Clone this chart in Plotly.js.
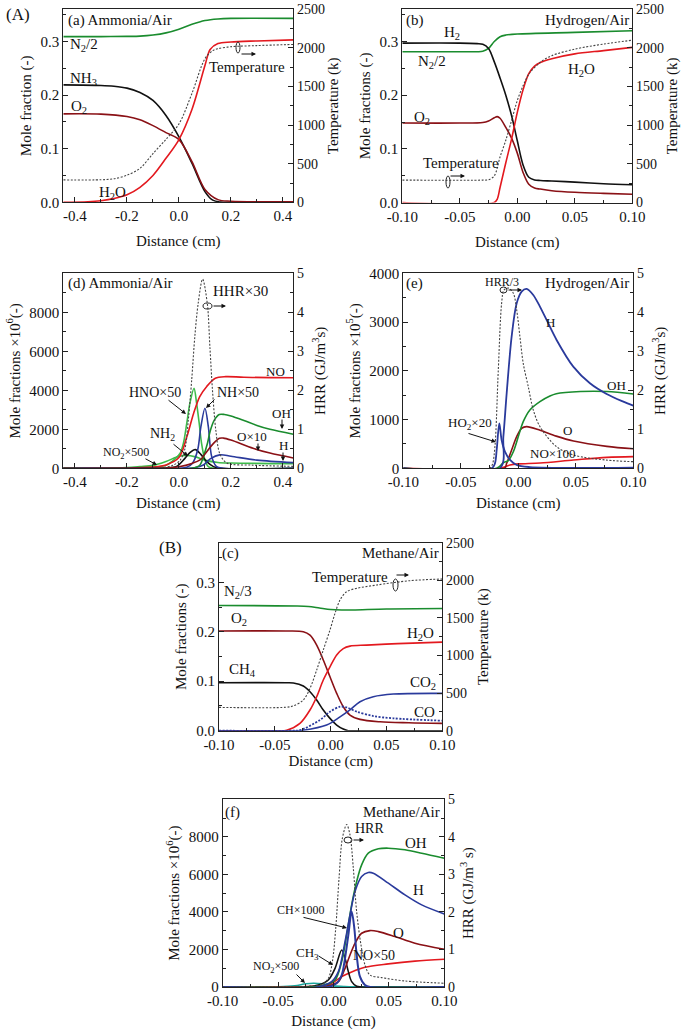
<!DOCTYPE html>
<html><head><meta charset="utf-8">
<script src="https://cdn.plot.ly/plotly-3.0.1.min.js"></script>
<style>html,body{margin:0;padding:0;background:#fff}#chart{width:685px;height:1032px}</style>
</head><body><div id="chart"></div>
<script>
// ---------------- DATA ----------------
// Panel (a) Ammonia/Air major species (x in cm)
const aX_N2 = [-0.445,-0.3,-0.2,-0.15,-0.1,-0.05,0,0.05,0.1,0.15,0.2,0.44];
const aN2   = [0.309,0.309,0.3095,0.310,0.312,0.316,0.323,0.332,0.339,0.342,0.343,0.343];
const aX_NH3 = [-0.445,-0.3,-0.25,-0.2,-0.15,-0.1,-0.05,0,0.05,0.1,0.13,0.16,0.2,0.44];
const aNH3   = [0.219,0.218,0.2165,0.213,0.205,0.19,0.162,0.122,0.073,0.02,0.004,0.0005,0,0];
const aX_O2 = [-0.445,-0.3,-0.2,-0.15,-0.1,-0.05,0,0.05,0.1,0.15,0.2,0.44];
const aO2   = [0.165,0.1645,0.16,0.154,0.143,0.13,0.117,0.076,0.024,0.005,0.002,0.001];
const aX_H2O = [-0.445,-0.35,-0.3,-0.25,-0.2,-0.15,-0.1,-0.05,0,0.05,0.1,0.12,0.15,0.2,0.3,0.44];
const aH2O   = [0,0.001,0.003,0.007,0.014,0.028,0.05,0.082,0.117,0.173,0.255,0.285,0.296,0.299,0.301,0.303];
const aX_T = [-0.445,-0.3,-0.25,-0.2,-0.15,-0.1,-0.05,0,0.05,0.1,0.13,0.15,0.2,0.3,0.44];
const aT   = [290,292,305,350,440,630,815,1015,1410,1860,1965,1990,2015,2030,2045];

// Panel (b) Hydrogen/Air
const bX_H2 = [-0.1,-0.05,-0.035,-0.03,-0.025,-0.02,-0.015,-0.01,-0.005,0,0.005,0.01,0.015,0.02,0.03,0.05,0.075,0.1];
const bH2   = [0.297,0.297,0.296,0.295,0.287,0.262,0.232,0.2,0.162,0.115,0.07,0.047,0.042,0.041,0.040,0.038,0.035,0.033];
const bX_N2 = [-0.1,-0.05,-0.03,-0.025,-0.02,-0.015,-0.01,0,0.05,0.1];
const bN2   = [0.281,0.281,0.282,0.287,0.300,0.309,0.312,0.314,0.317,0.320];
const bX_O2 = [-0.1,-0.05,-0.03,-0.025,-0.02,-0.0175,-0.015,-0.01,-0.005,0,0.005,0.01,0.015,0.02,0.03,0.05,0.075,0.1];
const bO2   = [0.148,0.148,0.149,0.152,0.158,0.160,0.157,0.140,0.120,0.092,0.056,0.034,0.027,0.025,0.022,0.019,0.017,0.0155];
const bX_H2O = [-0.1,-0.02,-0.0175,-0.015,-0.01,-0.005,0,0.005,0.01,0.015,0.02,0.03,0.05,0.075,0.1];
const bH2O   = [0,0,0.006,0.028,0.074,0.118,0.168,0.21,0.24,0.254,0.261,0.268,0.277,0.283,0.289];
const bX_T = [-0.1,-0.03,-0.025,-0.02,-0.015,-0.01,-0.005,0,0.005,0.01,0.02,0.03,0.05,0.075,0.1];
const bT   = [290,290,295,345,590,805,1060,1320,1510,1660,1815,1900,1985,2050,2100];

// Panel (d) Ammonia/Air minor species (mole fraction x1e6) and HRR
const dX_HRR = [-0.445,-0.1,-0.05,-0.022,0.004,0.023,0.036,0.049,0.061,0.074,0.091,0.109,0.119,0.129,0.142,0.157,0.183,0.285,0.44];
const dHRR   = [0,0,0.03,0.08,0.2,0.5,1.24,2.26,3.37,4.23,4.85,4.23,3.12,2.0,0.97,0.38,0.14,0.08,0.05];
const dX_NO = [-0.445,-0.2,-0.1,-0.05,0,0.03,0.056,0.08,0.107,0.14,0.18,0.25,0.44];
const dNO   = [0,5,60,170,550,1600,2800,3680,4200,4620,4700,4670,4640];
const dX_HNO = [-0.445,-0.2,-0.1,-0.05,-0.015,0.004,0.017,0.03,0.042,0.058,0.068,0.078,0.087,0.1,0.113,0.13,0.44];
const dHNO   = [0,10,60,150,480,760,1280,2300,3330,4100,3330,2300,1280,430,85,10,0];
const dX_NH = [-0.445,0,0.03,0.052,0.072,0.0845,0.1,0.113,0.126,0.145,0.17,0.44];
const dNH   = [0,0,50,260,940,2140,3080,2140,600,85,0,0];
const dX_NH2 = [-0.445,-0.1,-0.05,-0.009,0.023,0.042,0.063,0.085,0.107,0.133,0.16,0.44];
const dNH2   = [0,0,20,100,510,800,960,700,340,85,0,0];
const dX_NO2 = [-0.445,-0.3,-0.2,-0.15,-0.1,-0.05,0,0.03,0.06,0.1,0.15,0.2,0.44];
const dNO2   = [0,5,40,90,150,350,620,660,600,420,300,270,240];
const dX_OH = [-0.445,0.05,0.081,0.094,0.11,0.12,0.135,0.155,0.175,0.2,0.25,0.3,0.35,0.44];
const dOH   = [0,0,170,600,1300,1900,2450,2760,2760,2680,2450,2200,2000,1750];
const dX_O = [-0.445,-0.05,0,0.05,0.081,0.107,0.133,0.156,0.171,0.2,0.285,0.35,0.44];
const dO   = [0,10,80,250,430,850,1280,1540,1550,1450,1030,780,530];
const dX_H = [-0.445,0.03,0.06,0.094,0.12,0.157,0.2,0.3,0.44];
const dH   = [0,0,30,170,480,690,620,420,290];

// Panel (e) Hydrogen/Air minor species (x1e5) and HRR/3
const eX_HRR = [-0.1,-0.025,-0.0225,-0.0203,-0.0174,-0.0145,-0.0125,-0.0085,-0.0043,-0.0014,0.0014,0.0043,0.0087,0.013,0.0188,0.033,0.048,0.077,0.1];
const eHRR   = [0,0,0.1,0.56,2.52,4.23,4.57,4.62,4.49,4.06,3.38,2.69,2.09,1.5,1.07,0.56,0.34,0.21,0.17];
const eX_H = [-0.1,-0.016,-0.013,-0.0101,-0.0058,-0.0014,0.0029,0.0072,0.013,0.0188,0.0246,0.0333,0.0478,0.0623,0.0768,0.0913,0.1];
const eH   = [0,0,650,1540,2700,3385,3624,3680,3556,3316,3043,2633,2086,1744,1525,1368,1286];
const eX_HO2 = [-0.1,-0.023,-0.0203,-0.0188,-0.0165,-0.0145,-0.0116,-0.0072,-0.0014,0.01,0.1];
const eHO2   = [0,0,100,376,923,581,342,171,68,25,15];
const eX_OH = [-0.1,-0.0188,-0.013,-0.0087,-0.0043,0,0.0043,0.0101,0.0188,0.0275,0.033,0.054,0.077,0.1];
const eOH   = [0,0,116,157,342,650,957,1197,1368,1483,1530,1575,1575,1525];
const eX_O = [-0.1,-0.012,-0.0101,-0.0058,-0.0014,0.0029,0.0072,0.019,0.033,0.048,0.077,0.1];
const eO   = [0,0,103,376,650,820,855,780,660,560,450,400];
const eX_NO = [-0.1,-0.016,-0.0072,0,0.019,0.048,0.077,0.1];
const eNO   = [0,0,68,90,110,170,225,240];

// Panel (c) Methane/Air major species
const cX_N2 = [-0.1,-0.03,-0.02,-0.01,0,0.01,0.02,0.05,0.1];
const cN2   = [0.253,0.252,0.251,0.248,0.245,0.244,0.244,0.246,0.247];
const cX_O2 = [-0.1,-0.04,-0.0245,-0.0185,-0.0125,-0.0066,-0.0006,0.0054,0.0113,0.0173,0.0263,0.0442,0.07,0.1];
const cO2   = [0.2015,0.2015,0.2,0.193,0.173,0.143,0.109,0.0755,0.0485,0.0317,0.0229,0.018,0.016,0.0148];
const cX_CH4 = [-0.1,-0.04,-0.0334,-0.0245,-0.0185,-0.0125,-0.0066,-0.0006,0.0054,0.0113,0.0158,0.02,0.1];
const cCH4   = [0.097,0.097,0.0965,0.0903,0.0788,0.062,0.0418,0.0249,0.0115,0.0034,0,0,0];
const cX_H2O = [-0.1,-0.05,-0.0394,-0.0275,-0.0185,-0.0125,-0.0066,-0.0006,0.0054,0.0113,0.0173,0.0322,0.06,0.1];
const cH2O   = [0,0,0.001,0.0148,0.0418,0.0687,0.1024,0.129,0.153,0.166,0.171,0.173,0.176,0.179];
const cX_CO2 = [-0.1,-0.03,-0.0245,-0.0036,0.0084,0.0173,0.0263,0.0382,0.0561,0.1];
const cCO2   = [0,0,0.001,0.0115,0.028,0.042,0.0586,0.0687,0.0741,0.0755];
const cX_CO = [-0.1,-0.035,-0.0275,-0.0096,-0.0006,0.0084,0.0143,0.0233,0.0382,0.0561,0.1];
const cCO   = [0,0,0.001,0.0216,0.0384,0.0485,0.0472,0.0384,0.0297,0.025,0.0202];
const cX_T = [-0.1,-0.04,-0.0334,-0.0245,-0.0185,-0.0125,-0.0066,-0.0006,0.0039,0.0084,0.0143,0.0233,0.0412,0.071,0.1];
const cT   = [310,312,330,408,563,807,1073,1339,1560,1738,1849,1893,1937,1995,2017];

// Panel (f) Methane/Air minor species (x1e6) and HRR
const fX_HRR = [-0.1,-0.03,-0.0227,-0.0107,-0.0047,-0.001,0.002,0.005,0.008,0.0119,0.0149,0.0179,0.0209,0.0248,0.0284,0.0329,0.0435,0.0645,0.1];
const fHRR   = [0,0.01,0.02,0.07,0.23,0.675,1.56,2.9,3.96,4.33,4.05,3.16,2.0,1.12,0.59,0.32,0.25,0.16,0.1];
const fX_OH = [-0.1,-0.02,-0.0077,0.0014,0.0074,0.0119,0.0164,0.0209,0.0254,0.0314,0.0405,0.0495,0.0645,0.0796,0.1];
const fOH   = [0,0,107,373,1351,2774,4374,5618,6507,7130,7361,7396,7308,7130,6863];
const fX_H = [-0.1,-0.015,-0.0017,0.0044,0.0104,0.0149,0.0194,0.0254,0.0314,0.0359,0.0495,0.0645,0.0796,0.1];
const fH   = [0,0,284,818,2418,3840,5085,5885,6098,6063,5530,4907,4374,3890];
const fX_CH = [-0.1,-0.005,0.0029,0.0074,0.0104,0.0134,0.0164,0.0188,0.0209,0.0239,0.0284,0.033,0.1];
const fCH   = [0,0,196,640,1529,2774,4018,3129,1707,551,107,0,0];
const fX_CH3 = [-0.1,-0.025,-0.0137,-0.0047,0.0014,0.0074,0.0104,0.0134,0.0164,0.0209,0.025,0.1];
const fCH3   = [0,0,107,373,996,1973,1529,818,284,36,0,0];
const fX_O = [-0.1,-0.01,0.0044,0.0104,0.0149,0.0194,0.0254,0.0329,0.0405,0.0555,0.0735,0.1];
const fO   = [0,0,284,996,1707,2329,2863,3005,2951,2685,2329,2009];
const fX_NO = [-0.1,-0.03,-0.0107,-0.0017,0.0074,0.0164,0.0284,0.0495,0.0735,0.1];
const fNO   = [0,10,71,196,551,800,1050,1230,1380,1480];
const fX_NO2 = [-0.1,-0.05,-0.035,-0.025,-0.018,-0.01,-0.005,0,0.01,0.02,0.1];
const fNO2   = [0,10,60,170,200,170,120,60,20,5,0];

// Tick labels
const xTickWide = [-0.4,-0.2,0,0.2,0.4];
const xTickWideText = ['-0.4','-0.2','0.0','0.2','0.4'];
const xTickNarrow = [-0.1,-0.05,0,0.05,0.1];
const xTickNarrowText = ['-0.10','-0.05','0.00','0.05','0.10'];
const yTickFrac = [0,0.1,0.2,0.3];
const yTickFracText = ['0.0','0.1','0.2','0.3'];
const yTickTemp = [0,500,1000,1500,2000,2500];
const yTickHRR = [0,1,2,3,4,5];
const yTick1e6 = [0,2000,4000,6000,8000];
const yTick1e5 = [0,1000,2000,3000,4000];

// ---------------- STYLE / LAYOUT ----------------
const W = 685, H = 1032;
const FONT = '"Liberation Serif", "Times New Roman", serif';
const GREEN='#1a8c2e', RED='#e3191f', MAROON='#8a1116', BLACK='#111111', BLUE='#2a3a9c',
      LGREEN='#3dbb4a', TEAL='#1aa39a', DOT='#444444';
const DOTS = '2px,1.6px';

const traces = [];
function tr(x, y, p, right, color, dash, width){
  traces.push({x, y, type:'scatter', mode:'lines', xaxis:'x'+p, yaxis:'y'+(right?2*p:2*p-1),
    line:{color, dash:dash||'solid', width:width||1.6, shape:'spline', smoothing:0.9},
    hoverinfo:'skip', showlegend:false});
}
// (a) p=1
tr(aX_N2,aN2,1,false,GREEN); tr(aX_NH3,aNH3,1,false,BLACK); tr(aX_O2,aO2,1,false,MAROON);
tr(aX_H2O,aH2O,1,false,RED); tr(aX_T,aT,1,true,DOT,DOTS,1.1);
// (b) p=2
tr(bX_N2,bN2,2,false,GREEN); tr(bX_H2,bH2,2,false,BLACK); tr(bX_O2,bO2,2,false,MAROON);
tr(bX_H2O,bH2O,2,false,RED); tr(bX_T,bT,2,true,DOT,DOTS,1.1);
// (d) p=3
tr(dX_NO2,dNO2,3,false,LGREEN); tr(dX_HNO,dHNO,3,false,LGREEN); tr(dX_NO,dNO,3,false,RED);
tr(dX_NH2,dNH2,3,false,BLACK); tr(dX_NH,dNH,3,false,BLUE); tr(dX_H,dH,3,false,BLUE);
tr(dX_OH,dOH,3,false,GREEN); tr(dX_O,dO,3,false,MAROON); tr(dX_HRR,dHRR,3,true,DOT,DOTS,1.1);
// (e) p=4
tr(eX_NO,eNO,4,false,RED); tr(eX_O,eO,4,false,MAROON); tr(eX_OH,eOH,4,false,GREEN);
tr(eX_HO2,eHO2,4,false,BLUE,'solid',1.8); tr(eX_H,eH,4,false,BLUE,'solid',1.8);
tr(eX_HRR,eHRR,4,true,DOT,DOTS,1.1);
// (c) p=5
tr(cX_N2,cN2,5,false,GREEN); tr(cX_O2,cO2,5,false,MAROON); tr(cX_CH4,cCH4,5,false,BLACK);
tr(cX_H2O,cH2O,5,false,RED); tr(cX_CO2,cCO2,5,false,BLUE); tr(cX_CO,cCO,5,false,BLUE,'2px,1.5px',1.8);
tr(cX_T,cT,5,true,DOT,DOTS,1.1);
// (f) p=6
tr(fX_NO2,fNO2,6,false,TEAL); tr(fX_NO,fNO,6,false,RED); tr(fX_CH3,fCH3,6,false,BLACK);
tr(fX_O,fO,6,false,MAROON); tr(fX_OH,fOH,6,false,GREEN); tr(fX_H,fH,6,false,BLUE);
tr(fX_CH,fCH,6,false,BLUE,'solid',2); tr(fX_HRR,fHRR,6,true,DOT,DOTS,1.1);

const panels = [
 {p:1, px:[63.3,293.3], py:[9.3,202.3], xr:[-0.445,0.44], xt:xTickWide, xtt:xTickWideText, xm:0.1, xs:12,
  yl:[0,0.36], ylt:yTickFrac, yltt:yTickFracText, ylm:0.05, ytl:'Mole fraction (-)', ysl:5,
  yr:[0,2500], yrt:yTickTemp, yrm:250, ytr:'Temperature (k)', ysr:2},
 {p:2, px:[402.3,632.3], py:[9.3,202.5], xr:[-0.1,0.1], xt:xTickNarrow, xtt:xTickNarrowText, xm:0.025, xs:12,
  yl:[0,0.36], ylt:yTickFrac, yltt:yTickFracText, ylm:0.05, ytl:'Mole fractions (-)', ysl:5,
  yr:[0,2500], yrt:yTickTemp, yrm:250, ytr:'Temperature (k)', ysr:2},
 {p:3, px:[63.3,293.3], py:[273.3,468.3], xr:[-0.445,0.44], xt:xTickWide, xtt:xTickWideText, xm:0.1, xs:8,
  yl:[0,10000], ylt:yTick1e6, ylm:1000, ytl:'Mole fractions ×10<sup>6</sup>(-)', ysl:5,
  yr:[0,5], yrt:yTickHRR, yrm:0.5, ytr:'HRR (GJ/m<sup>3</sup>s)', ysr:11},
 {p:4, px:[403.3,633.3], py:[273.3,468.3], xr:[-0.1,0.1], xt:xTickNarrow, xtt:xTickNarrowText, xm:0.025, xs:8,
  yl:[0,4000], ylt:yTick1e5, ylm:500, ytl:'Mole fractions ×10<sup>5</sup>(-)', ysl:5,
  yr:[0,5], yrt:yTickHRR, yrm:0.5, ytr:'HRR (GJ/m<sup>3</sup>s)', ysr:11},
 {p:5, px:[219,442.3], py:[542.7,730.7], xr:[-0.1,0.1], xt:xTickNarrow, xtt:xTickNarrowText, xm:0.025, xs:3,
  yl:[0,0.38], ylt:yTickFrac, yltt:yTickFracText, ylm:0.05, ytl:'Mole fractions (-)', ysl:5,
  yr:[0,2500], yrt:yTickTemp, yrm:250, ytr:'Temperature (k)', ysr:4},
 {p:6, px:[222.7,444.3], py:[799.3,987], xr:[-0.1,0.1], xt:xTickNarrow, xtt:xTickNarrowText, xm:0.025, xs:7,
  yl:[0,10000], ylt:yTick1e6, ylm:1000, ytl:'Mole fractions ×10<sup>6</sup>(-)', ysl:5,
  yr:[0,5], yrt:yTickHRR, yrm:0.5, ytr:'HRR (GJ/m<sup>3</sup> s)', ysr:8}
];

const layout = {
  width:W, height:H, margin:{l:0,r:0,t:0,b:0}, paper_bgcolor:'#fff', plot_bgcolor:'rgba(0,0,0,0)',
  font:{family:FONT, color:'#111', size:15}, showlegend:false, annotations:[], shapes:[]
};
function common(){
  return {showline:true, linecolor:'#222', linewidth:1, showgrid:false, zeroline:false,
          ticks:'inside', ticklen:5, tickwidth:1, tickcolor:'#222', automargin:false,
          tickfont:{family:FONT, size:15, color:'#111'}};
}
panels.forEach(P=>{
  const xa = Object.assign(common(), {
    domain:[P.px[0]/W, P.px[1]/W], range:P.xr, anchor:'y'+(2*P.p-1),
    tickmode:'array', tickvals:P.xt, ticktext:P.xtt, mirror:true,
    minor:{tickmode:'linear', tick0:0, dtick:P.xm, ticks:'inside', ticklen:3, tickcolor:'#222'},
    title:{text:'Distance (cm)', font:{family:FONT, size:15}, standoff:P.xs}
  });
  const yl = Object.assign(common(), {
    domain:[1-P.py[1]/H, 1-P.py[0]/H], range:P.yl, anchor:'x'+P.p, side:'left',
    tickmode:'array', tickvals:P.ylt,
    minor:{tickmode:'linear', tick0:0, dtick:P.ylm, ticks:'inside', ticklen:3, tickcolor:'#222'},
    title:{text:P.ytl, font:{family:FONT, size:15}, standoff:P.ysl}
  });
  if (P.yltt) yl.ticktext = P.yltt;
  const yr = Object.assign(common(), {
    range:P.yr, anchor:'x'+P.p, side:'right', overlaying:'y'+(2*P.p-1),
    tickmode:'array', tickvals:P.yrt,
    minor:{tickmode:'linear', tick0:0, dtick:P.yrm, ticks:'inside', ticklen:3, tickcolor:'#222'},
    tickfont:{family:FONT, size:14, color:'#111'},
    title:{text:P.ytr, font:{family:FONT, size:15}, standoff:P.ysr}
  });
  layout['xaxis'+(P.p===1?'':P.p)] = xa;
  layout['yaxis'+(2*P.p-1===1?'':(2*P.p-1))] = yl;
  layout['yaxis'+(2*P.p)] = yr;
});

// annotation helpers (pixel positions converted to paper coordinates)
function T(text, x, y, size, anchor){
  layout.annotations.push({text, x:x/W, y:1-y/H, xref:'paper', yref:'paper', showarrow:false,
    xanchor:anchor||'left', yanchor:'middle', font:{family:FONT, size:size||15, color:'#111'}});
}
function ARW(tx, ty, sx, sy){
  layout.annotations.push({text:'', x:tx/W, y:1-ty/H, xref:'paper', yref:'paper', showarrow:true,
    ax:sx-tx, ay:sy-ty, arrowhead:2, arrowsize:0.9, arrowwidth:1, arrowcolor:'#111'});
}
function ELL(x0,y0,x1,y1){
  layout.shapes.push({type:'circle', xref:'paper', yref:'paper', x0:x0/W, x1:x1/W, y0:1-y1/H, y1:1-y0/H,
    line:{color:'#222', width:1}});
}

T('(A)', 4, 14, 17);
T('(a) Ammonia/Air', 66, 20, 15);
T('N<sub>2</sub>/2', 68, 45, 15);
T('NH<sub>3</sub>', 68, 79, 15);
T('O<sub>2</sub>', 69, 107, 15);
T('H<sub>2</sub>O', 97, 193, 15);
T('Temperature', 207, 67, 15);
ELL(236,42,240,53); ARW(256,54,240,54);

T('(b)', 404, 20, 15);
T('Hydrogen/Air', 631, 20, 15, 'right');
T('H<sub>2</sub>', 442, 33, 15);
T('N<sub>2</sub>/2', 416, 62, 15);
T('O<sub>2</sub>', 412, 118, 15);
T('H<sub>2</sub>O', 566, 70, 15);
T('Temperature', 421, 163, 15);
ELL(446,176,450,188); ARW(465,176,449,176);

T('(d) Ammonia/Air', 66, 283, 15);
T('HHR×30', 211, 291, 15);
ELL(203,303,212,309); ARW(226,306,212,306);
T('NO', 275, 371, 13, 'center');
T('HNO×50', 155, 392, 14, 'center');
ARW(186,414,167,399);
T('NH×50', 238, 392, 14, 'center');
ARW(206,408,216,398);
T('NH<sub>2</sub>', 162, 434, 14, 'center');
ARW(188,456,172,443);
T('NO<sub>2</sub>×500', 126, 453, 12, 'center');
ARW(157,465,144,458);
T('OH', 281, 413, 13, 'center');
ARW(282,429,282,418);
T('O×10', 252, 436, 13, 'center');
ARW(258,451,258,442);
T('H', 283, 445, 13, 'center');
ARW(283,461,283,451);

T('(e)', 404, 283, 15);
T('Hydrogen/Air', 631, 283, 15, 'right');
T('HRR/3', 502, 282, 12, 'center');
ELL(500,287,507,293); ARW(522,290,507,290);
T('H', 550, 322, 13, 'center');
T('OH', 616, 385, 13, 'center');
T('O', 567, 430, 13, 'center');
T('NO×100', 553, 453, 13, 'center');
T('HO<sub>2</sub>×20', 470, 423, 13, 'center');
ARW(496,442,467,433);

T('(B)', 157, 547, 17);
T('(c)', 220, 553, 15);
T('Methane/Air', 441, 553, 15, 'right');
T('Temperature', 350, 577, 15, 'center');
ELL(393,579,398,591); ARW(409,575,395,575);
T('N<sub>2</sub>/3', 222, 592, 15);
T('O<sub>2</sub>', 229, 619, 15);
T('CH<sub>4</sub>', 227, 670, 15);
T('H<sub>2</sub>O', 420, 634, 15, 'center');
T('CO<sub>2</sub>', 423, 683, 15, 'center');
T('CO', 424, 712, 15, 'center');

T('(f)', 223, 812, 15);
T('Methane/Air', 442, 812, 15, 'right');
T('HRR', 353, 828, 14);
ELL(344,837,352,843); ARW(364,840,352,840);
T('OH', 416, 843, 15, 'center');
T('H', 418, 890, 15, 'center');
T('O', 398, 933, 15, 'center');
T('NO×50', 374, 955, 14, 'center');
T('CH×1000', 300, 910, 12, 'center');
ARW(347,928,302,917);
T('CH<sub>3</sub>', 307, 953, 13, 'center');
ARW(333,965,317,955);
T('NO<sub>2</sub>×500', 276, 967, 12, 'center');
ARW(305,983,295,973);

Plotly.newPlot('chart', traces, layout, {staticPlot:true, displayModeBar:false});
</script></body></html>
